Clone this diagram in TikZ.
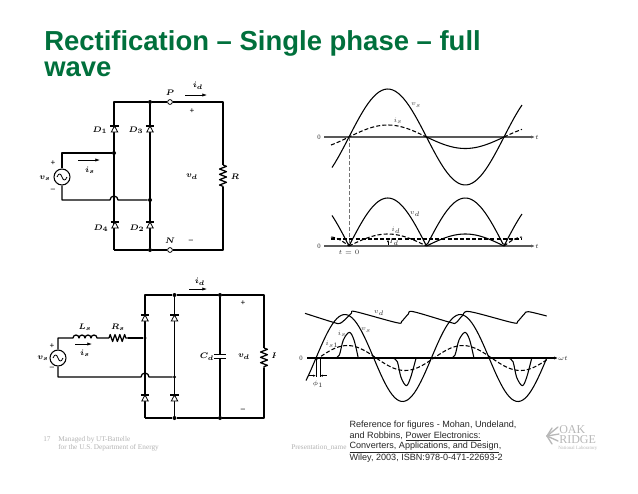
\documentclass[tikz,border=0pt]{standalone}
\usepackage{amsmath}
\usepackage{fontspec}
\setmainfont{Liberation Serif}
\newfontfamily\arialf{Liberation Sans}
\usetikzlibrary{decorations.pathmorphing,arrows.meta}
\definecolor{ornlgreen}{RGB}{0,112,60}
\definecolor{footgray}{RGB}{180,180,180}
\tikzset{
  wire/.style={line width=0.95pt,line join=round},
  wave/.style={line width=0.8pt,line join=round},
  dwave/.style={wave,dash pattern=on 3pt off 1.6pt},
  axisline/.style={line width=0.8pt,color=black!65,-{Latex[length=3pt,width=2.4pt]}},
  curarrow/.style={line width=0.5pt,-{Latex[length=3.5pt,width=2.4pt]}},
  dotnode/.style={circle,fill=black,inner sep=0pt,minimum size=3pt},
  termnode/.style={circle,draw,fill=white,line width=0.6pt,inner sep=0pt,minimum size=3.6pt},
  srcnode/.style={circle,draw,line width=0.8pt,inner sep=0pt,minimum size=12pt},
  lab/.style={inner sep=0pt,font=\fontsize{6.3pt}{8pt}\selectfont},
  smalllab/.style={inner sep=0pt,font=\fontsize{5pt}{6pt}\selectfont,text=black!80},
  foot/.style={inner sep=0pt,anchor=base west,text=footgray,font=\fontsize{5.45pt}{7pt}\selectfont},
  rzig/.style={wire,decorate,decoration={zigzag,segment length=4pt,amplitude=2.6pt}},
  diodepic/.pic={
    \draw[line width=0.6pt,fill=white] (-3.2,3) -- (3.2,3) -- (0,-3) -- cycle;
    \draw[line width=0.8pt] (-4.2,-3) -- (4.2,-3);
  },
  srcwave/.pic={
    \draw[line width=0.6pt] (-5,0) .. controls (-3,-5) and (-1,-3) .. (0,0) .. controls (1,3) and (3,5) .. (5,0);
  }
}
\begin{document}
\begin{tikzpicture}[x=0.75pt,y=-0.75pt]
\useasboundingbox (0,0) rectangle (638,493);
\fill[white] (0,0) rectangle (638,493);
% title
\node[inner sep=0pt,anchor=base west,text=ornlgreen,font=\arialf\bfseries\fontsize{20.6pt}{22pt}\selectfont] (title1) at (44,50) {Rectification – Single phase – full};
\node[inner sep=0pt,anchor=base west,text=ornlgreen,font=\arialf\bfseries\fontsize{20.6pt}{22pt}\selectfont] (title2) at (44,76) {wave};

% ---- top circuit
\coordinate (TL) at (114,102);
\node[dotnode] (TM) at (150,102) {};
\node[termnode] (P) at (170,102) {};
\coordinate (TR) at (223,102);
\coordinate (BL) at (114,250);
\node[dotnode] (BM) at (150,250) {};
\node[termnode] (N) at (170,250) {};
\coordinate (BR) at (223,250);
\node[dotnode] (JA) at (114,153) {};
\node[dotnode] (JB) at (150,200) {};
\coordinate (CA) at (62,153);
\coordinate (CB) at (62,200);
\node[srcnode] (VS) at (62,177) {};
\coordinate (RA) at (223,165);
\coordinate (RB) at (223,187);
\coordinate (HA) at (110,200);
\draw[wire] (VS.north) -- (CA) -- (JA);
\draw[wire] (VS.south) -- (CB) -- (HA) arc[start angle=180,end angle=360,radius=4] -- (JB);
\draw[wire] (BL) -- (TL) -- (TM);
\draw[wire] (TM) -- (BM);
\draw[wire] (TM) -- (P);
\draw[wire] (P) -- (TR) -- (RA);
\draw[rzig] (RA) -- (RB);
\draw[wire] (RB) -- (BR) -- (N);
\draw[wire] (N) -- (BM) -- (BL);
\pic at (114.5,129) {diodepic};
\pic at (150,129) {diodepic};
\pic at (115,225) {diodepic};
\pic at (150,225) {diodepic};
\pic at (VS) {srcwave};
\node[lab] (lP) at (170,93) {$\boldsymbol{P}$};
\node[lab] (lid) at (198,86) {$\boldsymbol{i_d}$};
\coordinate (a1) at (185,95); \coordinate (a2) at (207,95);
\draw[curarrow] (a1) -- (a2);
\node[lab] (lpl) at (192,111) {\textbf{+}};
\node[lab] (lvd) at (192,177) {$\boldsymbol{v_d}$};
\node[lab] (lR) at (235,177) {$\boldsymbol{R}$};
\node[lab] (lN) at (170,241) {$\boldsymbol{N}$};
\node[lab] (lmi) at (191,241) {\textbf{–}};
\node[lab] (lD1) at (100,130) {$\boldsymbol{D_1}$};
\node[lab] (lD3) at (136,130) {$\boldsymbol{D_3}$};
\node[lab] (lD4) at (101,228) {$\boldsymbol{D_4}$};
\node[lab] (lD2) at (137,228) {$\boldsymbol{D_2}$};
\node[lab] (lis) at (90,170) {$\boldsymbol{i_s}$};
\coordinate (a3) at (78,160); \coordinate (a4) at (100,160);
\draw[curarrow] (a3) -- (a4);
\node[lab] (lsp) at (53,163) {\textbf{+}};
\node[lab] (lsm) at (53,190) {\textbf{–}};
\node[lab] (lvs) at (45,178) {$\boldsymbol{v_s}$};

% ---- top right waveforms
\coordinate (ax1a) at (324,137); \coordinate (ax1b) at (535,137);
\coordinate (ax2a) at (324,246); \coordinate (ax2b) at (535,246);
\draw[axisline] (ax1a) -- (ax1b);
\draw[axisline] (ax2a) -- (ax2b);
\coordinate (z1) at (349,137); \coordinate (z2) at (349,246);
\draw[line width=0.5pt,color=black!55,dash pattern=on 3pt off 1.5pt] (z1) -- (z2);
\draw[wave] plot[samples=70,domain=332:522] (\x,{137-48*sin((\x-349)/77.5*180)});
\draw[dwave] plot[samples=40,domain=331:426.5] (\x,{137-12*sin((\x-349)/77.5*180)});
\draw[wave] plot[samples=30,domain=426.5:504] (\x,{137-11.5*sin((\x-349)/77.5*180)});
\draw[dwave] plot[samples=12,domain=504:522] (\x,{137-11.5*sin((\x-349)/77.5*180)});
\draw[wave] plot[samples=100,domain=332:522] (\x,{246-48*abs(sin((\x-349)/77.5*180))});
\draw[dwave] plot[samples=24,domain=331:349] (\x,{246-9*abs(sin((\x-349)/38*180))});
\draw[dwave] plot[samples=40,domain=349:426.5] (\x,{246-12*abs(sin((\x-349)/77.5*180))});
\draw[wave] plot[samples=40,domain=426.5:504] (\x,{246-12*abs(sin((\x-349)/77.5*180))});
\draw[dwave] plot[samples=24,domain=504:522] (\x,{246-9*abs(sin((\x-504)/38*180))});
\coordinate (idA) at (331,239); \coordinate (idB) at (522,239);
\draw[dwave] (idA) -- (idB);
\coordinate (ida1) at (388,244.5); \coordinate (ida2) at (388,239.5);
\draw[line width=0.4pt,-{Latex[length=2pt,width=1.6pt]}] (ida1) -- (ida2);
\node[smalllab] (l0a) at (319,137) {0};
\node[smalllab] (l0b) at (319,246) {0};
\node[smalllab] (lta) at (537,137) {$t$};
\node[smalllab] (ltb) at (537,246) {$t$};
\node[smalllab] (lwvs) at (416,105) {$v_s$};
\node[smalllab] (lwis) at (398,121) {$i_s$};
\node[smalllab] (lwvd) at (415,214) {$v_d$};
\node[smalllab] (lwid) at (396,230) {$i_d$};
\node[smalllab] (lwId) at (394,242) {$I_d$};
\node[smalllab] (lt0) at (349,252) {$t=0$};

% ---- bottom circuit
\coordinate (tL) at (145,295);
\node[dotnode] (tM) at (174.5,295) {};
\node[dotnode] (tC) at (220,295) {};
\coordinate (tR) at (264,295);
\coordinate (bL) at (145,418);
\node[dotnode] (bM) at (174.5,418) {};
\node[dotnode] (bC) at (220,418) {};
\coordinate (bR) at (264,418);
\node[dotnode,minimum size=2.6pt] (jA) at (145,338) {};
\node[dotnode,minimum size=2.6pt] (jB) at (174.5,377) {};
\coordinate (cA) at (58,338);
\coordinate (cB) at (58,377);
\node[srcnode] (vs2) at (58,358) {};
\coordinate (LA) at (73,338); \coordinate (LB) at (97,338);
\coordinate (RsA) at (109,338); \coordinate (RsB) at (128,338);
\coordinate (rA) at (264,348); \coordinate (rB) at (264,368);
\coordinate (hA) at (141,377);
\coordinate (capT) at (220,354.5); \coordinate (capB) at (220,358.5);
\coordinate (capTa) at (214,354.5); \coordinate (capTb) at (226,354.5);
\coordinate (capBa) at (214,358.5); \coordinate (capBb) at (226,358.5);
\draw[wire] (vs2.north) -- (cA) -- (LA)
  arc[start angle=180,end angle=360,radius=3]
  arc[start angle=180,end angle=360,radius=3]
  arc[start angle=180,end angle=360,radius=3]
  arc[start angle=180,end angle=360,radius=3] -- (LB) -- (RsA);
\draw[rzig,decoration={segment length=3.6pt}] (RsA) -- (RsB);
\draw[wire] (RsB) -- (jA);
\draw[wire] (vs2.south) -- (cB) -- (hA) arc[start angle=180,end angle=360,radius=4] -- (jB);
\draw[wire] (bL) -- (tL) -- (tM) -- (tC) -- (tR) -- (rA);
\draw[rzig] (rA) -- (rB);
\draw[wire] (rB) -- (bR) -- (bC) -- (bM) -- (bL);
\draw[wire] (tM) -- (bM);
\draw[wire] (tC) -- (capT);
\draw[wire] (capB) -- (bC);
\draw[wire] (capTa) -- (capTb);
\draw[wire] (capBa) -- (capBb);
\pic at (145,318) {diodepic};
\pic at (174.5,318) {diodepic};
\pic at (145,398) {diodepic};
\pic at (174.5,398) {diodepic};
\pic at (vs2) {srcwave};
\node[lab] (bid) at (200,282) {$\boldsymbol{i_d}$};
\coordinate (b1) at (189,289); \coordinate (b2) at (207,289);
\draw[curarrow] (b1) -- (b2);
\node[lab] (bpl) at (243,303) {\textbf{+}};
\node[lab] (bmi) at (243,410) {\textbf{–}};
\node[lab] (bCd) at (207,357) {$\boldsymbol{C_d}$};
\node[lab] (bvd) at (244,357) {$\boldsymbol{v_d}$};
\node[lab,anchor=west] (bR2) at (271,356) {$\boldsymbol{R}$};
\fill[white] (276,348) rectangle (285,366);
\node[lab] (bLs) at (85,327) {$\boldsymbol{L_s}$};
\node[lab] (bRs) at (118,327) {$\boldsymbol{R_s}$};
\node[lab] (bis) at (85,353) {$\boldsymbol{i_s}$};
\coordinate (b3) at (75,344); \coordinate (b4) at (92,344);
\draw[curarrow] (b3) -- (b4);
\node[lab] (bsp) at (52,346) {\textbf{+}};
\node[lab] (bsm) at (52,368) {\textbf{–}};
\node[lab] (bvs) at (43,358) {$\boldsymbol{v_s}$};

% ---- bottom right waveform
\coordinate (ax3a) at (307,358); \coordinate (ax3b) at (558,358);
\draw[line width=0.8pt,-{Latex[length=3pt,width=2.4pt]}] (ax3a) -- (ax3b);
\draw[wave] plot[samples=110,domain=306:547] (\x,{358-43.5*sin((\x-316)/57.7*180)});
\draw[dwave] plot[samples=90,domain=316:547] (\x,{358-12.5*sin((\x-318.5)/57.7*180)});
\begin{scope}[shift={(290,290)},x=0.25pt,y=-0.25pt]
\draw[wave] plot[smooth,tension=0.55] coordinates {(45,70) (130,97) (150,100) (170,84) (185,69) (197,65) (320,98) (335,94) (355,72) (370,65) (480,97) (498,98) (518,76) (540,65) (668,98) (683,94) (703,72) (715,65) (770,78)};
\draw[wave] plot[smooth,tension=0.55] coordinates {(135,205) (148,195) (160,150) (178,127) (192,150) (205,205)};
\draw[wave] plot[smooth,tension=0.55] coordinates {(310,205) (322,215) (333,262) (349,287) (362,262) (378,205)};
\draw[wave] plot[smooth,tension=0.55] coordinates {(482,205) (495,195) (507,150) (525,127) (539,150) (552,205)};
\draw[wave] plot[smooth,tension=0.55] coordinates {(657,205) (669,215) (680,262) (697,287) (710,262) (725,205)};
\coordinate (ph1a) at (78,205); \coordinate (ph1b) at (78,262);
\coordinate (ph2a) at (90,205); \coordinate (ph2b) at (90,262);
\coordinate (pa1) at (58,257); \coordinate (pa2) at (110,257);
\draw[line width=0.4pt] (ph1a) -- (ph1b);
\draw[line width=0.4pt] (ph2a) -- (ph2b);
\draw[line width=0.4pt,-{Latex[length=2.2pt,width=1.6pt]}] (pa1) -- (ph1b |- pa1);
\draw[line width=0.4pt,-{Latex[length=2.2pt,width=1.6pt]}] (pa2) -- (ph2b |- pa2);
\end{scope}
\node[smalllab] (w0) at (301,358) {0};
\node[smalllab] (wwt) at (563,358) {$\omega t$};
\node[smalllab] (wvd) at (379,313) {$v_d$};
\node[smalllab] (wvs) at (366,330) {$v_s$};
\node[smalllab] (wis) at (342,334) {$i_s$};
\node[smalllab] (wis1) at (332,344) {$i_{s1}$};
\node[smalllab] (wph) at (318,384) {$\phi_1$};

% ---- footer
\node[foot] (f17) at (43,441) {17};
\node[foot] (f1) at (58,441) {Managed by UT-Battelle};
\node[foot] (f2) at (58,449) {for the U.S. Department of Energy};
\node[foot,font=\fontsize{5.45pt}{7pt}\selectfont] (f3) at (291,449) {Presentation\_name};
\node[inner sep=1pt,fill=white,anchor=north west,align=left,font=\arialf\fontsize{6.8pt}{7.9pt}\selectfont,text=black!85] (ref) at (348,419.5) {Reference for figures - Mohan, Undeland,\\and Robbins, \underline{Power Electronics:}\\\underline{Converters, Applications, and Design},\\Wiley, 2003, ISBN:978-0-471-22693-2};
% logo
\node[inner sep=0pt,anchor=base west,text=black!28,font=\fontsize{9pt}{9pt}\selectfont] (lg1) at (559,433) {OAK};
\node[inner sep=0pt,anchor=base west,text=black!28,font=\fontsize{9pt}{9pt}\selectfont] (lg2) at (559,443) {RIDGE};
\node[inner sep=0pt,anchor=base west,text=black!28,font=\fontsize{3.6pt}{4pt}\selectfont] (lg3) at (558,449) {National Laboratory};
\begin{scope}[color=black!28,line width=1pt,line cap=round]
\coordinate (lf0) at (547,436); \coordinate (lf1) at (558,427); \coordinate (lf2) at (559,434);
\coordinate (lf3) at (558,441); \coordinate (lf4) at (552,428); \coordinate (lf5) at (552,444);
\draw (lf0) -- (lf1); \draw (lf0) -- (lf2); \draw (lf0) -- (lf3); \draw (lf0) -- (lf4); \draw (lf0) -- (lf5);
\end{scope}
\end{tikzpicture}
\end{document}
